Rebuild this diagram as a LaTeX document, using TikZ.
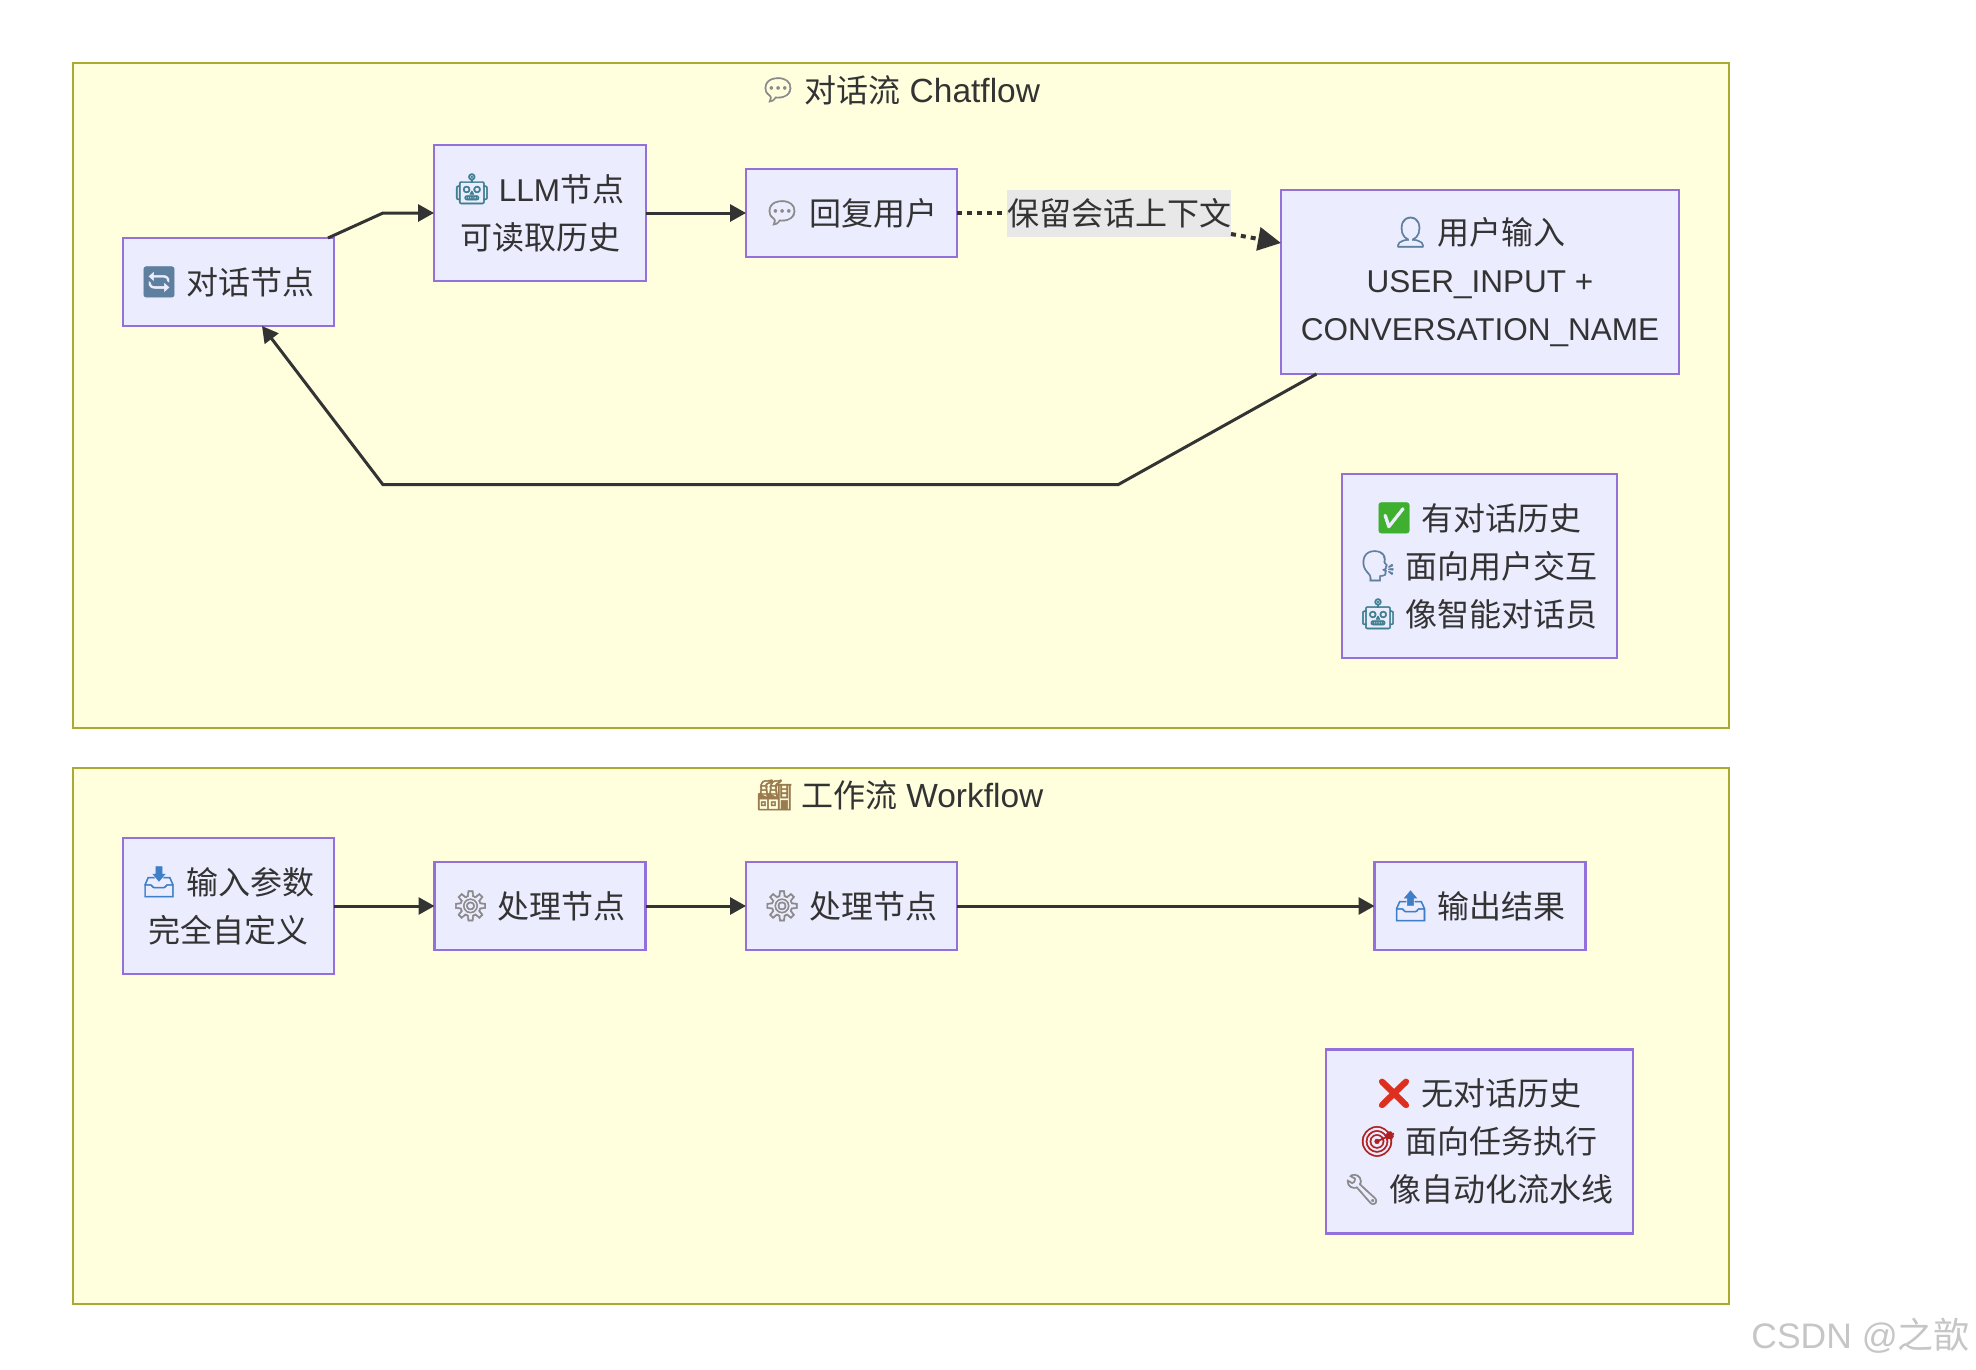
\documentclass[tikz,border=0pt]{standalone}
\usepackage{fontspec}
\usetikzlibrary{arrows.meta,calc}
\setmainfont{Liberation Sans}[Scale=0.985]
\newfontfamily\cjkfont{Noto Sans CJK SC}
\newfontfamily\emojifont[FakeBold=1.6]{Noto Emoji}
\newcommand{\zh}[1]{{\cjkfont #1}}
\newcommand{\emo}[2]{\makebox[43pt][l]{\smash{\makebox[32pt][c]{\raisebox{2pt}{\textcolor{#1}{\fontsize{30}{30}\selectfont\emojifont #2}}}}}}
\newcommand{\ttl}[1]{{\fontsize{34}{48}\selectfont #1}}
\definecolor{clfill}{HTML}{FFFFDE}
\definecolor{clline}{HTML}{AAAA33}
\definecolor{ndfill}{HTML}{ECECFF}
\definecolor{ndline}{HTML}{9370DB}
\definecolor{ink}{HTML}{333333}
\definecolor{lblbg}{HTML}{E8E8E8}
\definecolor{emgrey}{HTML}{8A8A8A}
\definecolor{emslate}{HTML}{5F7F9F}
\definecolor{emteal}{HTML}{3F7F8F}
\definecolor{emgreen}{HTML}{3FAF2F}
\definecolor{emblue}{HTML}{3F7FC8}
\definecolor{embrown}{HTML}{9A7B50}
\definecolor{emred}{HTML}{DD2E1E}
\definecolor{emdart}{HTML}{B02020}
\definecolor{wm}{HTML}{C6C6C6}
\tikzset{
  x=1pt,y=-1pt,
  cluster/.style={draw=clline,fill=clfill,line width=2.5pt},
  box/.style={draw=ndline,fill=ndfill,line width=2.2pt,rectangle,inner sep=0pt,outer sep=0pt,
    align=center,text=ink,font=\fontsize{32}{48}\selectfont},
  ctitle/.style={text=ink,inner sep=0pt,font=\fontsize{32}{48}\selectfont},
  flow/.style={draw=ink,line width=3pt,line join=miter,-{Triangle[length=16pt,width=17pt]}},
  dotflow/.style={draw=ink,line width=4pt,dash pattern=on 5pt off 5pt},
  elabel/.style={fill=lblbg,text=ink,inner sep=0pt,outer sep=0pt,minimum width=224pt,minimum height=47pt,
    font=\fontsize{32}{48}\selectfont},
}
\begin{document}
\begin{tikzpicture}
\useasboundingbox (0,0) rectangle (1976,1370);
\draw[cluster] (73,63) rectangle (1729,728);
\draw[cluster] (73,768) rectangle (1729,1304);

\node[ctitle] (t1) at (901,90) {\emo{emgrey}{💬}\zh{对话流} \ttl{Chatflow}};
\node[ctitle] (t2) at (901,795) {\emo{embrown}{🏭}\zh{工作流} \ttl{Workflow}};

\node[box,minimum width=211pt,minimum height=88pt] (dlg) at (228.5,282) {\emo{emslate}{🔄}\zh{对话节点}};
\node[box,minimum width=212pt,minimum height=136pt] (llm) at (540,213) {\emo{emteal}{🤖}LLM\zh{节点}\\\zh{可读取历史}};
\node[box,minimum width=211pt,minimum height=88pt] (rep) at (851.5,213) {\emo{emgrey}{💬}\zh{回复用户}};
\node[box,minimum width=398pt,minimum height=184pt] (usr) at (1480,282) {\emo{emslate}{👤}\zh{用户输入}\\USER\_INPUT +\\CONVERSATION\_NAME};
\node[box,minimum width=275pt,minimum height=184pt] (n1) at (1479.5,566) {\emo{emgreen}{✅}\zh{有对话历史}\\\emo{emslate}{🗣}\zh{面向用户交互}\\\emo{emteal}{🤖}\zh{像智能对话员}};

\node[box,minimum width=211pt,minimum height=136pt] (inp) at (228.5,906) {\emo{emblue}{📥}\zh{输入参数}\\\zh{完全自定义}};
\node[box,minimum width=211pt,minimum height=88pt] (p1) at (540,906) {\emo{emgrey}{⚙}\zh{处理节点}};
\node[box,minimum width=211pt,minimum height=88pt] (p2) at (851.5,906) {\emo{emgrey}{⚙}\zh{处理节点}};
\node[box,minimum width=211pt,minimum height=88pt] (out) at (1480,906) {\emo{emblue}{📤}\zh{输出结果}};
\node[box,minimum width=307pt,minimum height=184pt] (n2) at (1479.5,1141.5) {\emo{emred}{❌}\zh{无对话历史}\\\emo{emdart}{🎯}\zh{面向任务执行}\\\emo{emgrey}{🔧}\zh{像自动化流水线}};

\node[elabel] (lb) at (1119,213) {\zh{保留会话上下文}};

\coordinate (b1) at (383,213);
\coordinate (b2) at (383,484.7);
\coordinate (b3) at (1118,484.7);

\draw[flow] ([xshift=-6pt]dlg.north east) -- (b1) -- (llm.west);
\draw[flow] (llm.east) -- (rep.west);
\draw[dotflow] (rep.east) -- (lb.west);
\draw[dotflow,-{Triangle[length=23pt,width=23pt]}] ([yshift=2.5pt]lb.south east) -- ([yshift=39pt]usr.west);
\draw[flow] ([xshift=35.5pt]usr.south west) -- (b3) -- (b2) -- ([xshift=33.5pt]dlg.south);
\draw[flow] (inp.east) -- (p1.west);
\draw[flow] (p1.east) -- (p2.west);
\draw[flow] (p2.east) -- (out.west);

\node[anchor=east,inner sep=0pt,text=wm,font=\fontsize{36}{40}\selectfont] (wmk) at (1970,1336) {CSDN @\zh{之歆}};
\end{tikzpicture}
\end{document}
